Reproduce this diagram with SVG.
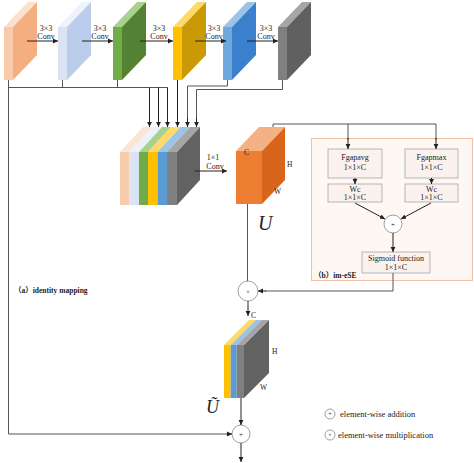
<svg xmlns="http://www.w3.org/2000/svg" width="474" height="463" viewBox="0 0 474 463">
<defs>
<marker id="ah" markerWidth="6" markerHeight="6" refX="5" refY="3" orient="auto" markerUnits="userSpaceOnUse"><path d="M0,0.6 L5,3 L0,5.4 z" fill="#222"/></marker>
</defs>
<style>
.t{font-family:"Liberation Serif","Noto Sans CJK SC",serif;fill:#222;}
.s7{font-size:7.5px;}
.s8{font-size:8px;}
.s85{font-size:8.5px;}
.b{font-weight:bold;}
.ln{fill:none;stroke:#555;stroke-width:1;}
.ar{fill:none;stroke:#222;stroke-width:1;marker-end:url(#ah);}
.box{fill:#FBF2ED;stroke:#A6A6A6;stroke-width:0.8;}
.circ{fill:#fff;stroke:#888;stroke-width:0.8;}
</style>
<rect width="474" height="463" fill="#fff"/>

<!-- top row slabs -->
<g id="slab1">
<polygon points="4,27 13,27 37,2 28,2" fill="#FBE0CE"/>
<polygon points="13,27 37,2 37,55 13,80" fill="#F4AE80"/>
<rect x="4" y="27" width="9" height="53" fill="#F8CBAD"/>
</g>
<g id="slab2">
<polygon points="58,27 67,27 91,2 82,2" fill="#EEF2FA"/>
<polygon points="67,27 91,2 91,55 67,80" fill="#BCCDEB"/>
<rect x="58" y="27" width="9" height="53" fill="#DAE3F3"/>
</g>
<g id="slab3">
<polygon points="113,27 122,27 146,2 137,2" fill="#A9D18E"/>
<polygon points="122,27 146,2 146,55 122,80" fill="#548235"/>
<rect x="113" y="27" width="9" height="53" fill="#70AD47"/>
</g>
<g id="slab4">
<polygon points="173,27 182,27 206,2 197,2" fill="#FFD966"/>
<polygon points="182,27 206,2 206,55 182,80" fill="#C99A06"/>
<rect x="173" y="27" width="9" height="53" fill="#FFC000"/>
</g>
<g id="slab5">
<polygon points="223,27 232,27 256,2 247,2" fill="#9DC3E6"/>
<polygon points="232,27 256,2 256,55 232,80" fill="#3A80CC"/>
<rect x="223" y="27" width="9" height="53" fill="#6FA8DC"/>
</g>
<g id="slab6">
<polygon points="278,27 287,27 311,2 302,2" fill="#A6A6A6"/>
<polygon points="287,27 311,2 311,55 287,80" fill="#606060"/>
<rect x="278" y="27" width="9" height="53" fill="#808080"/>
</g>

<!-- concat block -->
<g id="concat">
<polygon points="120,152 129.5,152 152.5,127 143,127" fill="#FBE5D6"/>
<polygon points="129.5,152 139,152 162,127 152.5,127" fill="#EDF1F9"/>
<polygon points="139,152 148,152 171,127 162,127" fill="#A9D18E"/>
<polygon points="148,152 157.5,152 180.5,127 171,127" fill="#FFD966"/>
<polygon points="157.5,152 167,152 190,127 180.5,127" fill="#9DC3E6"/>
<polygon points="167,152 177,152 200,127 190,127" fill="#A6A6A6"/>
<rect x="120" y="152" width="9.5" height="53" fill="#F8CBAD"/>
<rect x="129.5" y="152" width="9.5" height="53" fill="#DAE3F3"/>
<rect x="139" y="152" width="9" height="53" fill="#70AD47"/>
<rect x="148" y="152" width="9.5" height="53" fill="#FFC000"/>
<rect x="157.5" y="152" width="9.5" height="53" fill="#5B9BD5"/>
<rect x="167" y="152" width="10" height="53" fill="#808080"/>
<polygon points="177,152 200,127 200,180 177,205" fill="#626262"/>
</g>

<!-- U block -->
<g id="U">
<polygon points="236,151 262,151 285,127 259,127" fill="#F4B183"/>
<polygon points="262,151 285,127 285,180 262,204" fill="#D9651C"/>
<rect x="236" y="151" width="26" height="53" fill="#ED7D31"/>
<text class="t s7" x="244" y="155">C</text>
<text class="t s7" x="287" y="167">H</text>
<text class="t s7" x="274" y="194">W</text>
<text class="t" x="258" y="230" font-size="20" font-style="italic">U</text>
</g>

<!-- im-eSE panel -->
<g id="imeSE">
<rect x="311.5" y="138.5" width="161" height="142" fill="#FEF8F5" stroke="#F4C0A8" stroke-width="1"/>
<text class="t s7 b" x="314" y="278">（b）im-eSE</text>
</g>
<g id="fgapavg">
<rect class="box" x="328" y="149" width="54" height="29"/>
<text class="t s8" x="355" y="160" text-anchor="middle">Fgapavg</text>
<text class="t s8" x="355" y="170" text-anchor="middle">1×1×C</text>
</g>
<g id="fgapmax">
<rect class="box" x="405" y="149" width="53" height="29"/>
<text class="t s8" x="431.5" y="160" text-anchor="middle">Fgapmax</text>
<text class="t s8" x="431.5" y="170" text-anchor="middle">1×1×C</text>
</g>
<g id="wc1">
<rect class="box" x="328" y="184" width="54" height="18"/>
<text class="t s8" x="355" y="191.5" text-anchor="middle">Wc</text>
<text class="t s8" x="355" y="199.8" text-anchor="middle">1×1×C</text>
</g>
<g id="wc2">
<rect class="box" x="405" y="184" width="53" height="18"/>
<text class="t s8" x="431.5" y="191.5" text-anchor="middle">Wc</text>
<text class="t s8" x="431.5" y="199.8" text-anchor="middle">1×1×C</text>
</g>
<g id="add1">
<circle class="circ" cx="393" cy="224" r="9"/>
<text class="t" x="393" y="226.5" font-size="7" text-anchor="middle">+</text>
</g>
<g id="sigmoid">
<rect class="box" x="362" y="252" width="68" height="21"/>
<text class="t s8" x="396" y="260.5" text-anchor="middle">Sigmoid function</text>
<text class="t s8" x="396" y="270" text-anchor="middle">1×1×C</text>
</g>

<!-- multiply circle -->
<g id="mul">
<circle class="circ" cx="248" cy="291" r="10"/>
<text class="t" x="248" y="293.5" font-size="7" text-anchor="middle">×</text>
</g>

<!-- U tilde block -->
<g id="Utilde">
<polygon points="224,345 230.7,345 255.7,320 249,320" fill="#FFD966"/>
<polygon points="230.7,345 236.7,345 261.7,320 255.7,320" fill="#9DC3E6"/>
<polygon points="236.7,345 244,345 269,320 261.7,320" fill="#A6A6A6"/>
<rect x="224" y="345" width="6.7" height="53" fill="#FFC000"/>
<rect x="230.7" y="345" width="6" height="53" fill="#5B9BD5"/>
<rect x="236.7" y="345" width="7.3" height="53" fill="#808080"/>
<polygon points="244,345 269,320 269,373 244,398" fill="#626262"/>
<text class="t s7" x="251" y="318">C</text>
<text class="t s7" x="272" y="354">H</text>
<text class="t s7" x="260" y="390">W</text>
<text class="t" x="206" y="413" font-size="18" font-style="italic">Ũ</text>
</g>

<!-- final add circle -->
<g id="add2">
<circle class="circ" cx="241" cy="434" r="9"/>
<text class="t" x="241" y="436.5" font-size="7" text-anchor="middle">+</text>
</g>

<!-- legend -->
<g id="legend">
<circle class="circ" cx="330" cy="414" r="5"/>
<text class="t" x="330" y="416.3" font-size="6" text-anchor="middle">+</text>
<text class="t s85" x="340" y="417">element-wise addition</text>
<circle class="circ" cx="330" cy="435" r="5"/>
<text class="t" x="330" y="437.3" font-size="6" text-anchor="middle">×</text>
<text class="t s85" x="338" y="438">element-wise multiplication</text>
</g>

<text class="t s7 b" x="14" y="293">（a）identity mapping</text>

<!-- conv labels -->
<g id="convlabels" class="t s8" text-anchor="middle">
<text x="46" y="31">3×3</text><text x="46" y="38.5">Conv</text>
<text x="100" y="31">3×3</text><text x="100" y="38.5">Conv</text>
<text x="159" y="31">3×3</text><text x="159" y="38.5">Conv</text>
<text x="214" y="31">3×3</text><text x="214" y="38.5">Conv</text>
<text x="266" y="31">3×3</text><text x="266" y="38.5">Conv</text>
<text x="213" y="160">1×1</text><text x="215" y="169">Conv</text>
</g>

<!-- connectors -->
<g id="connectors">
<path class="ar" d="M27 41 H58"/>
<path class="ar" d="M82 41 H113"/>
<path class="ar" d="M140 41 H173"/>
<path class="ar" d="M195 41 H226"/>
<path class="ar" d="M247 41 H278"/>

<path class="ln" d="M8.5 80 V434 H226"/>
<path class="ar" d="M226 434 H232"/>
<path class="ln" d="M8.5 87.5 H167.5"/>
<path class="ln" d="M62.5 80 V87.5"/>
<path class="ln" d="M117.5 80 V87.5"/>
<path class="ar" d="M149.5 87.5 V127"/>
<path class="ar" d="M158.5 87.5 V127"/>
<path class="ar" d="M167.5 87.5 V127"/>
<path class="ar" d="M177.5 80 V127"/>
<path class="ln" d="M227.5 80 V86 H187.5 V120"/>
<path class="ar" d="M187.5 118 V127"/>
<path class="ln" d="M282.5 80 V89.5 H196.5 V120"/>
<path class="ar" d="M196.5 118 V127"/>

<path class="ar" d="M195 171 H227"/>

<path class="ln" d="M273 127 V124 H436 V140"/>
<path class="ar" d="M436 138 V149"/>
<path class="ln" d="M348 124 V140"/>
<path class="ar" d="M348 138 V149"/>
<path class="ar" d="M355 178 V184"/>
<path class="ar" d="M431.5 178 V184"/>
<path class="ar" d="M355 203 L385 219"/>
<path class="ar" d="M431 203 L401 219"/>
<path class="ar" d="M393 233 V252"/>
<path class="ln" d="M393 273 V291 H265"/>
<path class="ar" d="M266 291 H258"/>

<path class="ln" d="M247.5 204 V281"/>
<path class="ar" d="M248 301 V316"/>
<path class="ar" d="M241 398 V425"/>
<path class="ar" d="M241 443 V462"/>
</g>
</svg>
